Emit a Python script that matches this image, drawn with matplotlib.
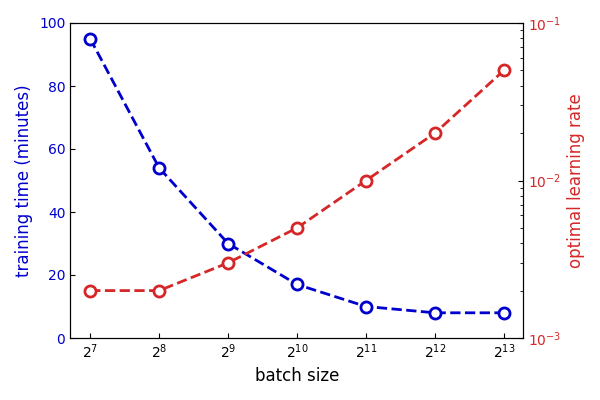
import numpy as np
import matplotlib
matplotlib.use('Agg')
import matplotlib.pyplot as plt

# data
batch_sizes = [2**7, 2**8, 2**9, 2**10, 2**11, 2**12, 2**13]
train_time = [95, 54, 30, 17, 10, 8, 8]
best_lr = [0.002, 0.002, 0.003, 0.005, 0.01, 0.02, 0.05]

blue = '#0000cc'
red = '#d62728'

fig, ax1 = plt.subplots(figsize=(6, 4), dpi=100)
fig.subplots_adjust(left=0.117, right=0.872, top=0.9425, bottom=0.155)

ax1.plot(batch_sizes, train_time, '--o', color=blue, lw=2, ms=8, mew=2, mfc='white')
ax1.set_xscale('log', base=2)
ax1.set_xticks(batch_sizes)
ax1.set_ylim(0, 100)
ax1.set_xlabel('batch size', fontsize=12)
ax1.set_ylabel('training time (minutes)', color=blue, fontsize=12)
ax1.tick_params(axis='y', colors=blue, direction='in')
ax1.tick_params(axis='x', direction='in')
ax1.tick_params(axis='y', color='black')

ax2 = ax1.twinx()
ax2.plot(batch_sizes, best_lr, '--o', color=red, lw=2, ms=8, mew=2, mfc='white')
ax2.set_yscale('log')
ax2.set_ylim(1e-3, 1e-1)
ax2.set_ylabel('optimal learning rate', color=red, fontsize=12)
ax2.tick_params(axis='y', which='both', colors=red, direction='in')
ax2.tick_params(axis='y', which='both', color='black')

ax1.set_xlim(2**6.71, 2**13.28)

plt.savefig('out.png')
